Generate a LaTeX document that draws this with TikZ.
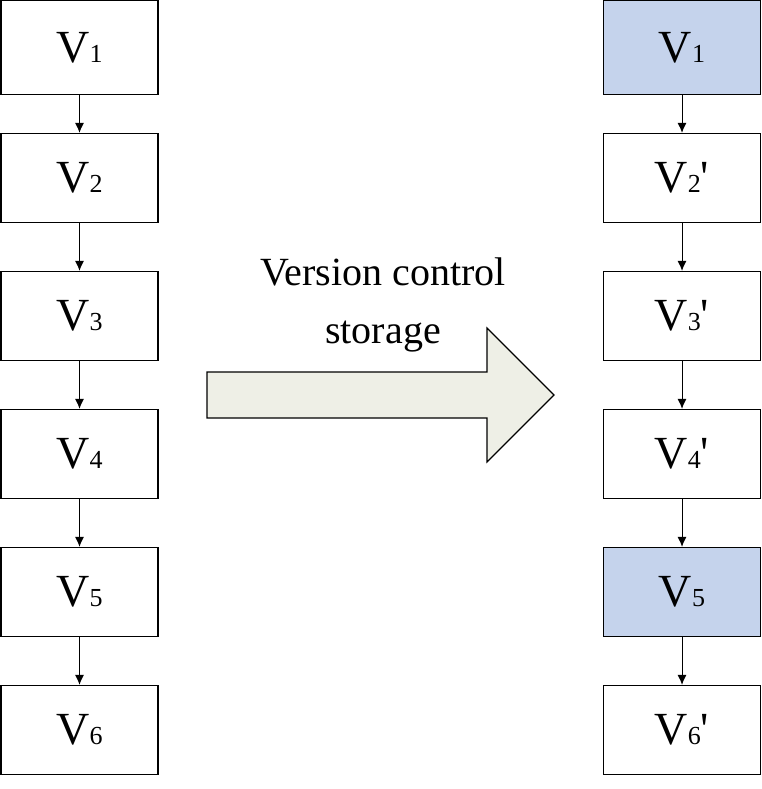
\documentclass[tikz,border=0pt]{standalone}
\usepackage{fontspec}
\setmainfont{Liberation Serif}
\usetikzlibrary{arrows.meta}
\definecolor{blu}{HTML}{C5D3EC}
\definecolor{arr}{HTML}{EEEFE6}
\begin{document}
\begin{tikzpicture}[x=1pt,y=-1pt,
 box/.style={draw,line width=1.2pt,minimum width=157pt,minimum height=89pt,inner sep=0pt,font=\fontsize{46}{46}\selectfont},
 lnk/.style={-{Latex[length=10pt,width=9pt]},line width=1pt}]
\useasboundingbox (0,0) rectangle (762,789);
\newcommand{\vv}[1]{V{\fontsize{26}{26}\selectfont #1}}
\newcommand{\pr}{\textquotesingle}
\foreach \i/\y in {2/178,3/316,4/454,5/592,6/730}{
 \node[box] (L\i) at (79.5,\y) {\vv{\i}};
}
\node[box,minimum height=94pt] (L1) at (79.5,47.5) {\vv{1}};
\node[box,fill=blu,minimum height=94pt] (R1) at (682,47.5) {\vv{1}};
\node[box] (R2) at (682,178) {\vv{2}\pr};
\node[box] (R3) at (682,316) {\vv{3}\pr};
\node[box] (R4) at (682,454) {\vv{4}\pr};
\node[box,fill=blu] (R5) at (682,592) {\vv{5}};
\node[box] (R6) at (682,730) {\vv{6}\pr};
\foreach \a/\b in {1/2,2/3,3/4,4/5,5/6}{
 \draw[lnk] (L\a) -- (L\b);
 \draw[lnk] (R\a) -- (R\b);
}
\draw[line width=1.2pt,fill=arr] (207,372) -- (487,372) -- (487,328) -- (554,395) -- (487,462) -- (487,418) -- (207,418) -- cycle;
\node[font=\fontsize{40}{58}\selectfont,align=center] (T) at (383,305) {Version control\\storage};
\end{tikzpicture}
\end{document}
